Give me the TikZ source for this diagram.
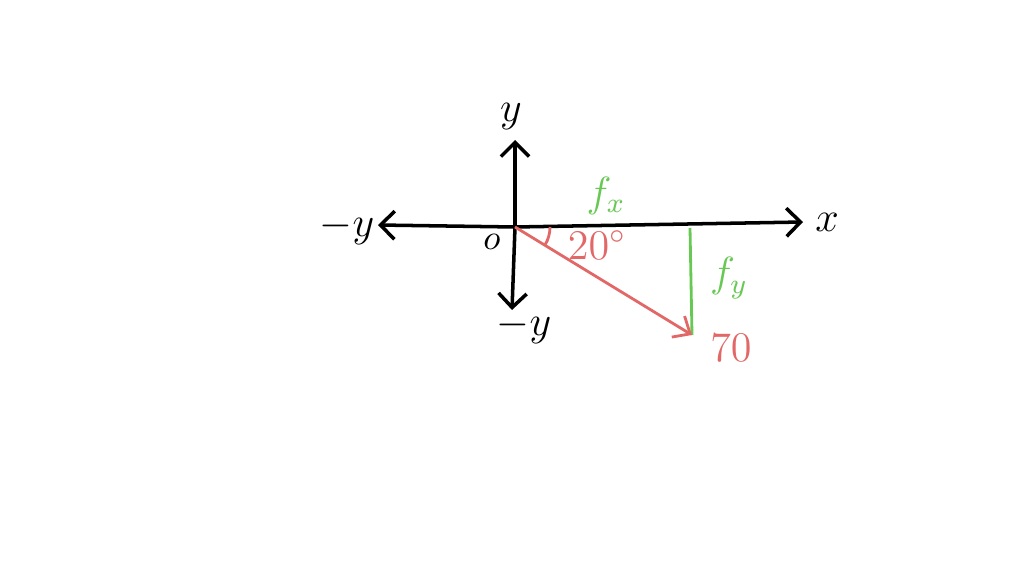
\documentclass[tikz,border=0pt]{standalone}
\usetikzlibrary{arrows.meta}
\definecolor{penred}{RGB}{226,104,104}
\definecolor{pengreen}{RGB}{104,200,84}
\tikzset{
	axis/.style={line width=1pt, -{Straight Barb[length=4pt,width=8pt]}},
	lbl/.style={inner sep=1pt, font=\large},
	redlbl/.style={lbl, text=penred},
	greenlbl/.style={lbl, text=pengreen}
}
\begin{document}
\begin{tikzpicture}[x=0.01cm, y=-0.01cm]
\useasboundingbox (0,0) rectangle (1024,576);

\coordinate (O) at (515,227);
\coordinate (up) at (515,140);
\coordinate (down) at (512,310);
\coordinate (left) at (378,225);
\coordinate (right) at (803,222);
\coordinate (top) at (690,228);
\coordinate (F) at (692,335);

\draw[axis] (O) -- (up);
\draw[axis] (O) -- (down);
\draw[axis] (O) -- (left);
\draw[axis] (O) -- (right);

\draw[pengreen, line width=0.8pt] (top) -- (F);
\draw[penred, line width=0.8pt, -{Straight Barb[length=4pt,width=7pt]}] (O) -- (F);
\draw[penred, line width=0.8pt] (550,227) arc (0:31:35);

\node[lbl] (ylabel) at (511,117) {$y$};
\node[lbl] (ydown) at (524,327) {$-y$};
\node[lbl] (yleft) at (347,228) {$-y$};
\node[lbl] (xlabel) at (827,222) {$x$};
\node[lbl, font=\normalsize] (olabel) at (492,242) {$o$};
\node[greenlbl] (fxlabel) at (606,196) {$f_x$};
\node[greenlbl] (fylabel) at (729,278) {$f_y$};
\node[redlbl] (anglbl) at (597,245) {$20^\circ$};
\node[redlbl] (forcelbl) at (731,348) {$70$};
\end{tikzpicture}
\end{document}
